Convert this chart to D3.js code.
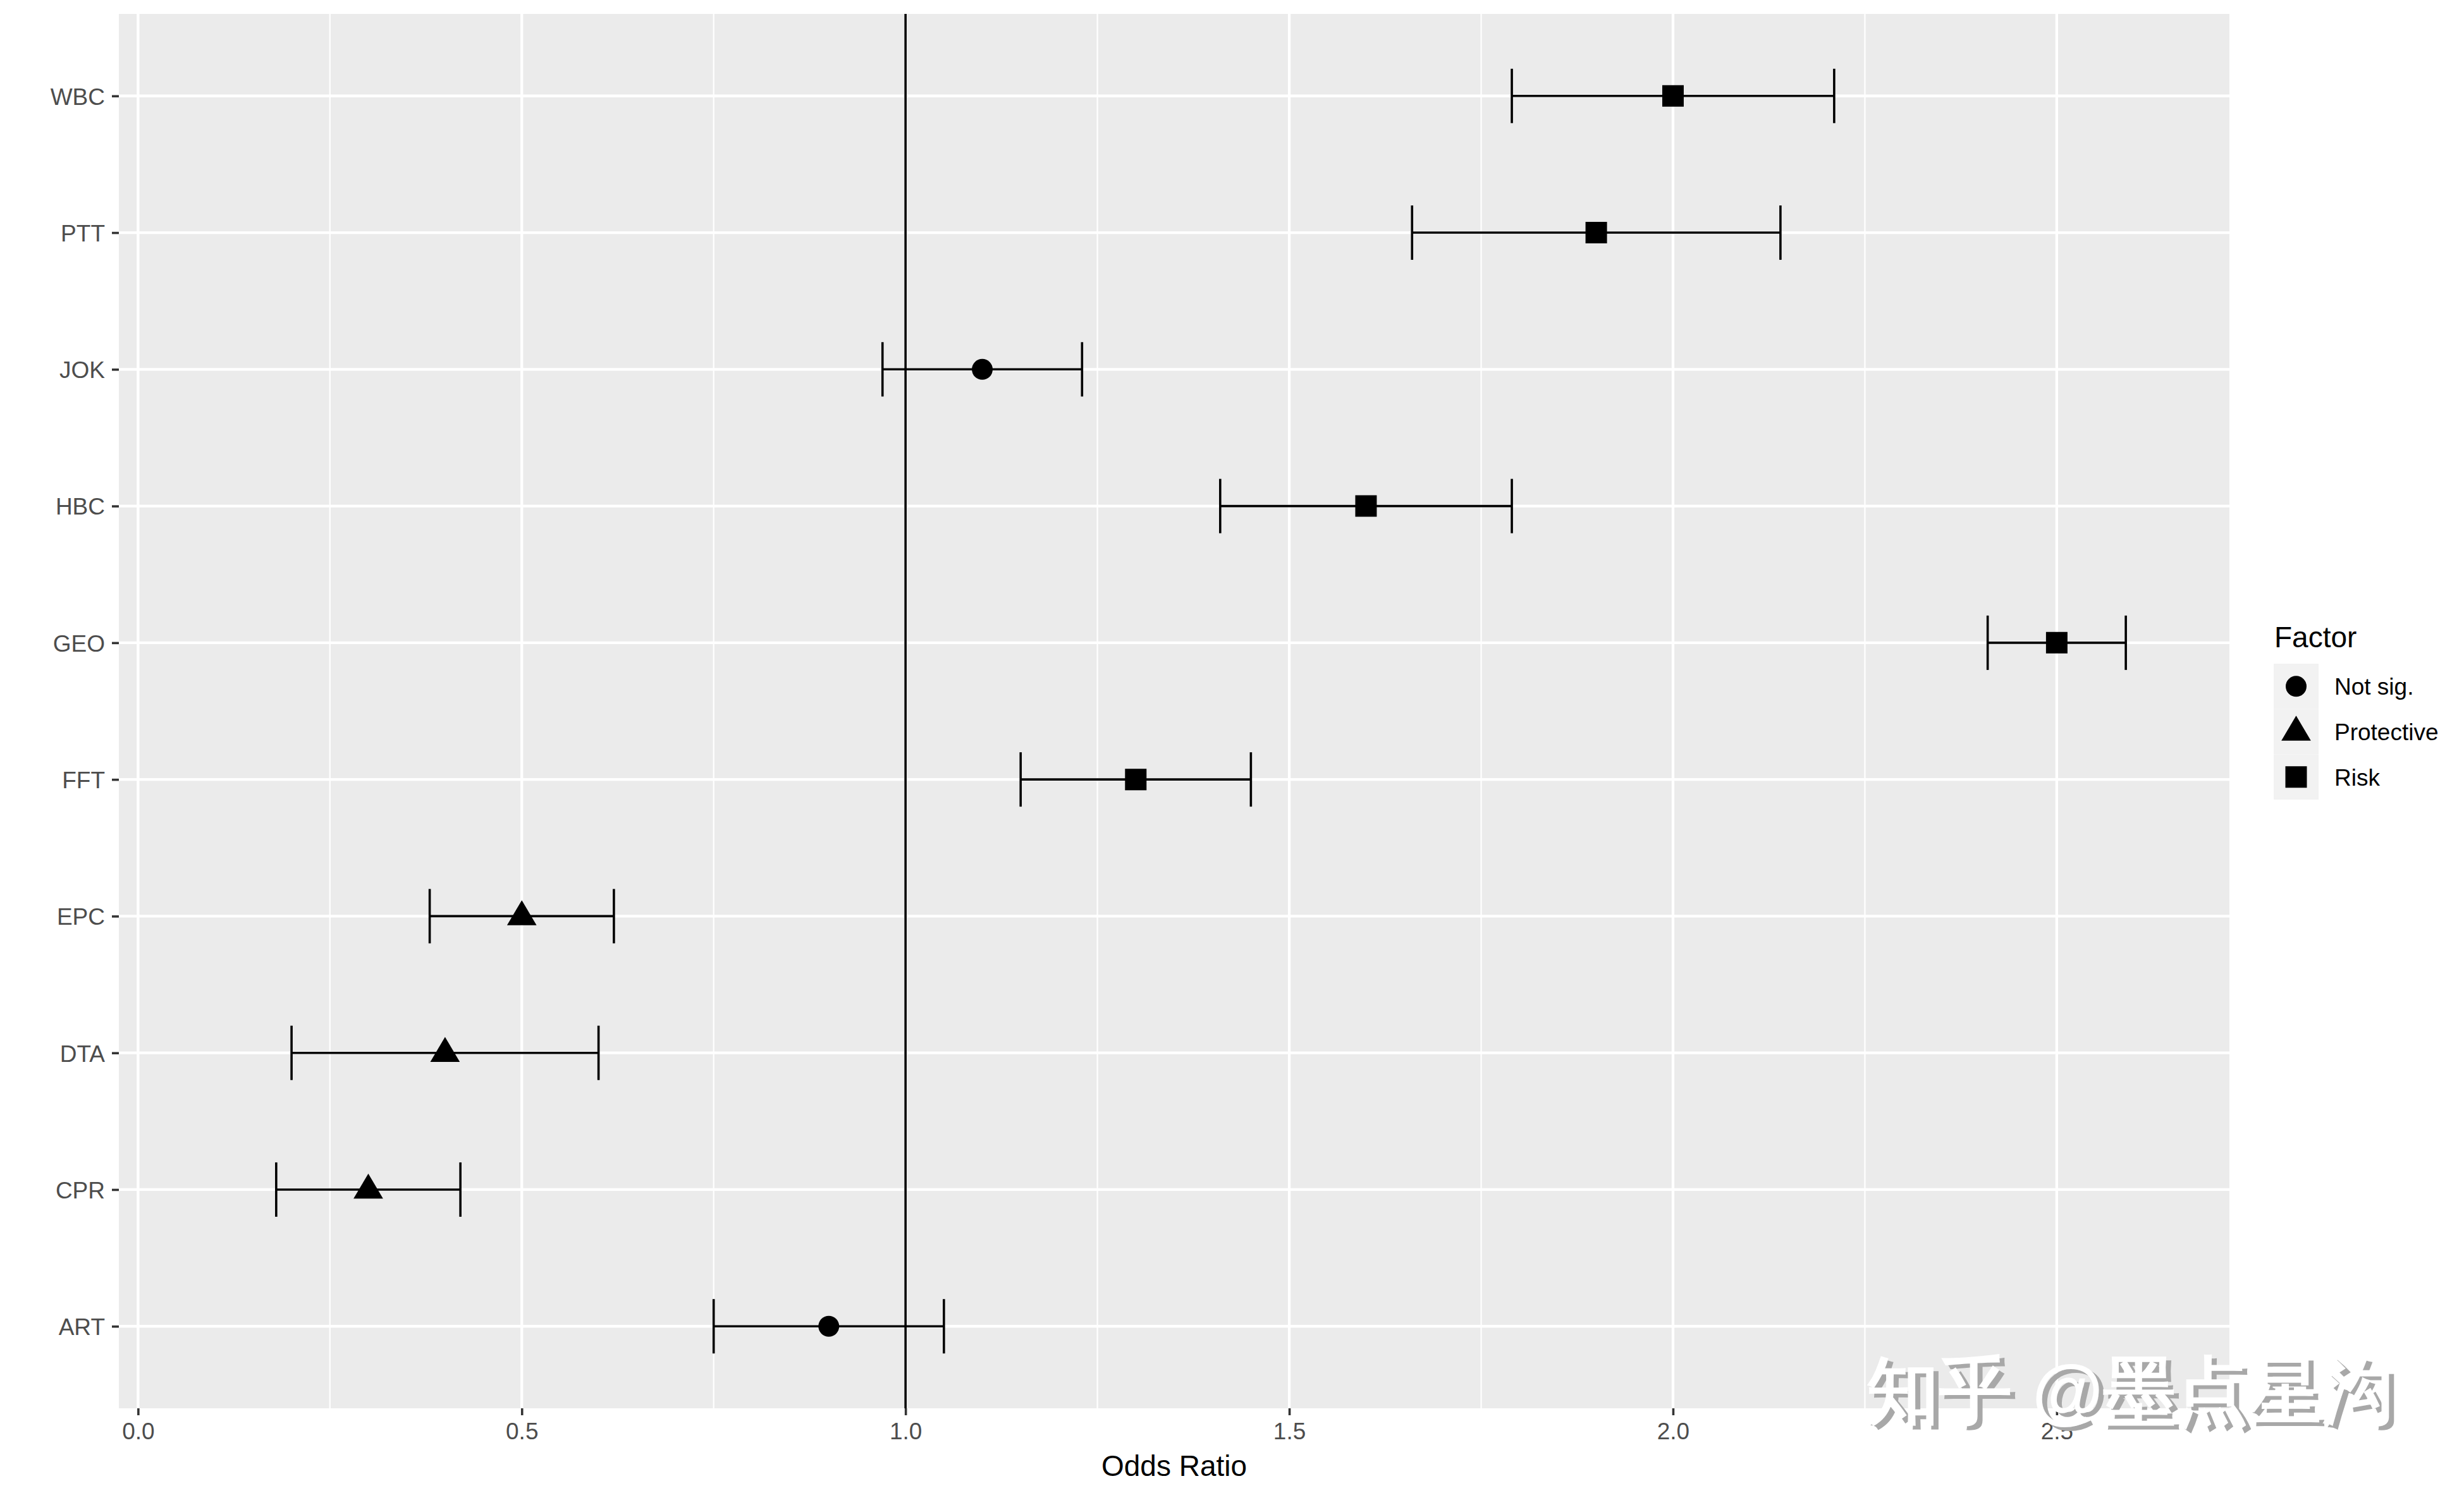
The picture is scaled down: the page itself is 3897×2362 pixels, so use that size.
<!DOCTYPE html>
<html>
<head>
<meta charset="utf-8">
<script src="https://cdn.jsdelivr.net/npm/d3@7"></script>
<style>
  html, body { margin: 0; padding: 0; background: #ffffff; }
  svg { display: block; }
  text { font-family: "Liberation Sans", Arial, sans-serif; }
</style>
</head>
<body>
<svg id="chart" width="3897" height="2362"></svg>
<script>
// ---------------- data ----------------
const categories = ["WBC", "PTT", "JOK", "HBC", "GEO", "FFT", "EPC", "DTA", "CPR", "ART"];
const oddsRatio  = [2.00, 1.90, 1.10, 1.60, 2.50, 1.30, 0.50, 0.40, 0.30, 0.90];
const lowerCI    = [1.79, 1.66, 0.97, 1.41, 2.41, 1.15, 0.38, 0.20, 0.18, 0.75];
const upperCI    = [2.21, 2.14, 1.23, 1.79, 2.59, 1.45, 0.62, 0.60, 0.42, 1.05];
const factor     = ["Risk", "Risk", "Not sig.", "Risk", "Risk", "Risk", "Protective", "Protective", "Protective", "Not sig."];
const factorLevels = ["Not sig.", "Protective", "Risk"];
const xTicks      = [0, 0.5, 1.0, 1.5, 2.0, 2.5];
const xMinorTicks = [0.25, 0.75, 1.25, 1.75, 2.25];
const refLine     = 1;
const xLimits     = [0.1, 2.6];
const xTitle = "Odds Ratio";
const legendTitle = "Factor";
const watermark = "知乎 @墨点星沟";

// ---------------- layout ----------------
const panel = { left: 188, right: 3526, top: 22, bottom: 2228 };
const svg = d3.select("#chart");

const span = xLimits[1] - xLimits[0];
const x = d3.scaleLinear()
  .domain([xLimits[0] - 0.05 * span, xLimits[1] + 0.05 * span])
  .range([panel.left, panel.right]);
const y = d3.scalePoint()
  .domain(categories)
  .range([panel.top, panel.bottom])
  .padding(0.6);

const rows = categories.map((c, i) => ({
  cat: c, or: oddsRatio[i], lo: lowerCI[i], hi: upperCI[i], f: factor[i]
}));

// panel background
svg.append("rect")
  .attr("x", panel.left).attr("y", panel.top)
  .attr("width", panel.right - panel.left).attr("height", panel.bottom - panel.top)
  .attr("fill", "#EBEBEB");

const grid = svg.append("g");
grid.selectAll("line.minor").data(xMinorTicks).enter().append("line")
  .attr("x1", d => x(d)).attr("x2", d => x(d))
  .attr("y1", panel.top).attr("y2", panel.bottom)
  .attr("stroke", "#ffffff").attr("stroke-width", 2.2);
grid.selectAll("line.majx").data(xTicks).enter().append("line")
  .attr("x1", d => x(d)).attr("x2", d => x(d))
  .attr("y1", panel.top).attr("y2", panel.bottom)
  .attr("stroke", "#ffffff").attr("stroke-width", 4.3);
grid.selectAll("line.majy").data(categories).enter().append("line")
  .attr("x1", panel.left).attr("x2", panel.right)
  .attr("y1", d => y(d)).attr("y2", d => y(d))
  .attr("stroke", "#ffffff").attr("stroke-width", 4.3);

// reference line
svg.append("line")
  .attr("x1", x(refLine)).attr("x2", x(refLine))
  .attr("y1", panel.top).attr("y2", panel.bottom)
  .attr("stroke", "#000000").attr("stroke-width", 3.6);

// error bars
const capHalf = 43;
const eb = svg.append("g").attr("stroke", "#000000").attr("stroke-width", 3.6).attr("fill", "none");
rows.forEach(r => {
  eb.append("line").attr("x1", x(r.lo)).attr("x2", x(r.hi)).attr("y1", y(r.cat)).attr("y2", y(r.cat));
  eb.append("line").attr("x1", x(r.lo)).attr("x2", x(r.lo)).attr("y1", y(r.cat) - capHalf).attr("y2", y(r.cat) + capHalf);
  eb.append("line").attr("x1", x(r.hi)).attr("x2", x(r.hi)).attr("y1", y(r.cat) - capHalf).attr("y2", y(r.cat) + capHalf);
});

// symbols
const circlePath = d3.symbol().type(d3.symbolCircle).size(Math.PI * 16.5 * 16.5)();
const squarePath = d3.symbol().type(d3.symbolSquare).size(34 * 34)();
const triW = 46.7, triTop = -25.2, triBot = 14.3;
const trianglePath = `M0,${triTop}L${triW / 2},${triBot}L${-triW / 2},${triBot}Z`;
const shapeFor = f => f === "Not sig." ? circlePath : (f === "Protective" ? trianglePath : squarePath);

svg.append("g").selectAll("path").data(rows).enter().append("path")
  .attr("d", d => shapeFor(d.f))
  .attr("transform", d => `translate(${x(d.or)},${y(d.cat)})`)
  .attr("fill", "#000000");

// axes
const xAxis = d3.axisBottom(x).tickValues(xTicks).tickFormat(d3.format(".1f")).tickSize(11).tickPadding(11.5);
const gx = svg.append("g").attr("transform", `translate(0,${panel.bottom})`).call(xAxis);
gx.select(".domain").remove();
gx.selectAll(".tick line").attr("stroke", "#333333").attr("stroke-width", 3.6);
gx.selectAll(".tick text").attr("fill", "#4D4D4D").attr("font-size", 37)
  .attr("font-family", "Liberation Sans, Arial, sans-serif");

const yAxis = d3.axisLeft(y).tickSize(11).tickPadding(11);
const gy = svg.append("g").attr("transform", `translate(${panel.left},0)`).call(yAxis);
gy.select(".domain").remove();
gy.selectAll(".tick line").attr("stroke", "#333333").attr("stroke-width", 3.6);
gy.selectAll(".tick text").attr("fill", "#4D4D4D").attr("font-size", 37).attr("dy", "0.36em")
  .attr("font-family", "Liberation Sans, Arial, sans-serif");

// axis title
svg.append("text")
  .attr("x", (panel.left + panel.right) / 2).attr("y", 2335)
  .attr("text-anchor", "middle").attr("font-size", 46).attr("fill", "#000000")
  .text(xTitle);

// legend
const lg = svg.append("g");
const keyX = 3596, keyY = 1050, keyW = 71, keyH = 71.7;
lg.append("text").attr("x", 3597).attr("y", 1024).attr("font-size", 46).attr("fill", "#000000").text(legendTitle);
factorLevels.forEach((lv, i) => {
  const cy = keyY + keyH * i + keyH / 2;
  lg.append("rect").attr("x", keyX).attr("y", keyY + keyH * i).attr("width", keyW).attr("height", keyH).attr("fill", "#F2F2F2");
  lg.append("path").attr("d", shapeFor(lv)).attr("transform", `translate(${keyX + keyW / 2},${cy})`).attr("fill", "#000000");
  lg.append("text").attr("x", 3692).attr("y", cy).attr("dy", "0.36em").attr("font-size", 37).attr("fill", "#000000").text(lv);
});

// watermark
const wm = svg.append("g").attr("font-family", "'Noto Sans CJK SC', sans-serif").attr("font-size", 115).attr("font-weight", 700);
wm.append("text").attr("x", 2960).attr("y", 2246).attr("fill", "#A8A8A8").text(watermark);
wm.append("text").attr("x", 2952).attr("y", 2240).attr("fill", "#FFFFFF").text(watermark);
</script>
</body>
</html>
